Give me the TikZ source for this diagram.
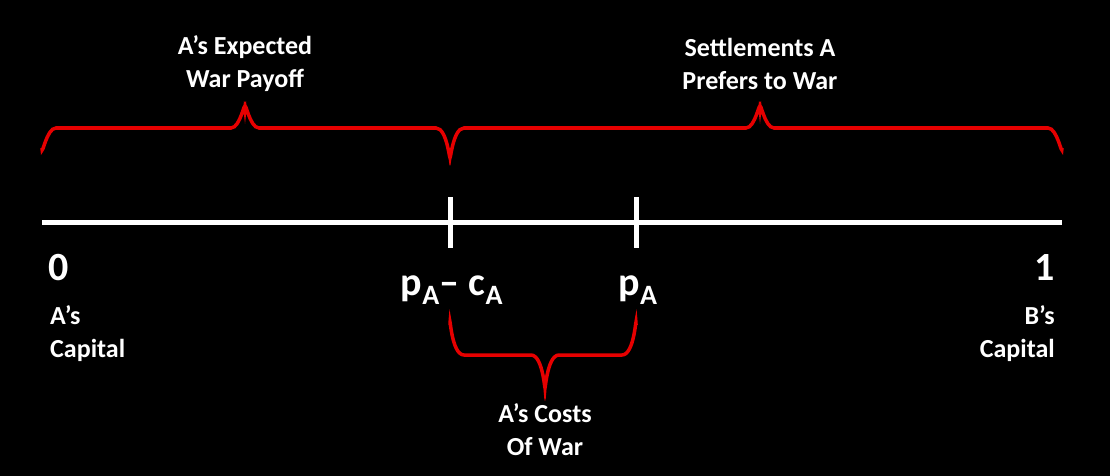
\documentclass[tikz,border=0pt]{standalone}
\usepackage{fontspec}
\setmainfont{Carlito}
\begin{document}
\begin{tikzpicture}[x=1pt,y=-1pt,
  lbl/.style={font=\fontsize{26}{33}\selectfont\bfseries,text=white,align=center,inner sep=0pt},
  big/.style={font=\fontsize{40}{40}\selectfont\bfseries,text=white,inner sep=0pt},
  br/.style={draw={rgb,255:red,230;green,0;blue,0},line width=3.5pt}]
\fill[black] (0,0) rectangle (1110,476);
\useasboundingbox (0,0) rectangle (1110,476);
\coordinate (L) at (42,222); \coordinate (R) at (1062,222);
\draw[white,line width=5pt] (L) -- (R);
\coordinate (t1) at (450,222); \coordinate (t2) at (636,222);
\draw[white,line width=5pt] (450,197) -- (450,248);
\draw[white,line width=5pt] (636,197) -- (636,248);
\draw[br] (42,148) to[out=-90,in=180] (56,128) -- (231,128) to[out=0,in=90] (245,108)
  to[out=90,in=180] (259,128) -- (436,128) to[out=0,in=-90] (450,155)
  to[out=-90,in=180] (464,128) -- (746,128) to[out=0,in=90] (760,108)
  to[out=90,in=180] (774,128) -- (1048,128) to[out=0,in=-90] (1062,148);
\draw[br] (450,325) to[out=90,in=180] (464,355) -- (531,355) to[out=0,in=-90] (545,385)
  to[out=-90,in=180] (559,355) -- (622,355) to[out=0,in=90] (636,325);
\node[lbl] (a) at (245,64) {A’s Expected\\War Payoff};
\node[lbl] (s) at (760,64) {Settlements A\\Prefers to War};
\node[big,anchor=west] (z) at (48,268) {0};
\node[big,anchor=east] (o) at (1055,268) {1};
\node[lbl,align=left,anchor=north west] (ac) at (50,305) {A’s\\Capital};
\node[lbl,align=right,anchor=north east] (bc) at (1055,305) {B’s\\Capital};
\node[big] (pc) at (452,290) {p\textsubscript{A}– c\textsubscript{A}};
\node[big] (p) at (638,290) {p\textsubscript{A}};
\node[lbl] (cw) at (545,430) {A’s Costs\\Of War};
\end{tikzpicture}
\end{document}
